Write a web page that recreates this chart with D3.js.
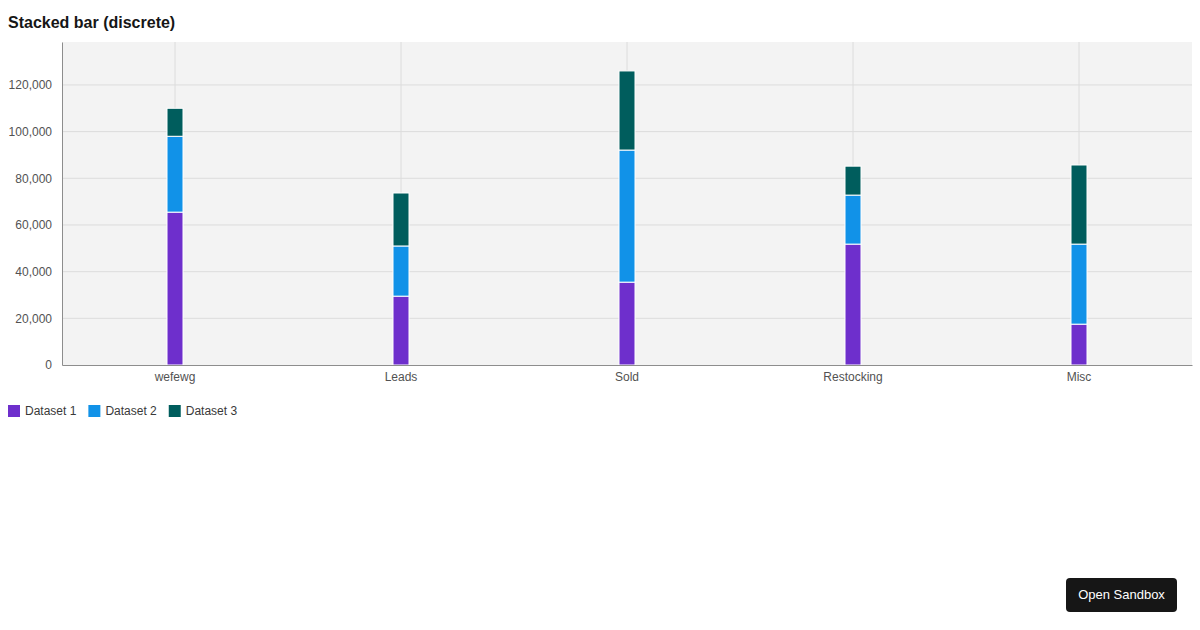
<!DOCTYPE html>
<html><head><meta charset="utf-8">
<script src="https://cdn.jsdelivr.net/npm/d3@7"></script>
<style>body{margin:0;background:#fff;font-family:"Liberation Sans",Arial,sans-serif}
#btn{position:absolute;left:1066px;top:578px;width:111px;height:34px;background:#161616;color:#fff;border-radius:4px;font-size:13px;line-height:34px;text-align:center}</style>
</head><body>
<svg id="c" width="1200" height="630"></svg>
<div id="btn">Open Sandbox</div>
<script>
const categories=["wefewg","Leads","Sold","Restocking","Misc"];
const seriesNames=["Dataset 1","Dataset 2","Dataset 3"];
const dataset1=[65500,29500,35500,51800,17500];
const dataset2=[32500,21500,56600,21000,34300];
const dataset3=[12000,22700,33900,12400,33900];
const yTicks=[0,20000,40000,60000,80000,100000,120000];
const colors=["#6e2fcc","#1192e8","#005d5d"];

const svg=d3.select("#c");
const m={l:62,r:8,t:42,b:265};
const W=1200-m.l-m.r,H=630-m.t-m.b;
svg.append("text").attr("x",8).attr("y",28).attr("font-size",16).attr("font-weight","bold").attr("fill","#161616").text("Stacked bar (discrete)");
const g=svg.append("g").attr("transform",`translate(${m.l},${m.t})`);
const x=d3.scaleBand().domain(categories).range([0,W]);
const y=d3.scaleLinear().domain([0,138400]).range([H,0]);
g.append("rect").attr("width",W).attr("height",H).attr("fill","#f3f3f3");
g.selectAll(".hg").data(yTicks.slice(1)).join("line").attr("x1",0).attr("x2",W).attr("y1",d=>y(d)).attr("y2",d=>y(d)).attr("stroke","#dcdcdc");
g.selectAll(".vg").data(categories).join("line").attr("y1",0).attr("y2",H).attr("x1",d=>x(d)+x.bandwidth()/2).attr("x2",d=>x(d)+x.bandwidth()/2).attr("stroke","#dcdcdc");
const rows=categories.map((c,i)=>({cat:c,"Dataset 1":dataset1[i],"Dataset 2":dataset2[i],"Dataset 3":dataset3[i]}));
const stack=d3.stack().keys(seriesNames)(rows);
const bw=16;
stack.forEach((s,si)=>{
  g.selectAll(".b"+si).data(s).join("rect")
   .attr("x",d=>x(d.data.cat)+x.bandwidth()/2-bw/2).attr("width",bw)
   .attr("y",d=>y(d[1])).attr("height",d=>y(d[0])-y(d[1]))
   .attr("fill",colors[si]).attr("stroke","#fff").attr("stroke-width",1);
});
const ya=g.append("g").call(d3.axisLeft(y).tickValues(yTicks).tickSize(0).tickPadding(10).tickFormat(d3.format(",")));
ya.select(".domain").attr("stroke","#8d8d8d");
ya.selectAll("text").attr("font-size",12).attr("fill","#525252").attr("font-family","Liberation Sans, Arial");
const xa=g.append("g").attr("transform",`translate(0,${H})`).call(d3.axisBottom(x).tickSize(0).tickPadding(7));
xa.select(".domain").attr("stroke","#8d8d8d");
xa.selectAll("text").attr("font-size",12).attr("fill","#525252").attr("font-family","Liberation Sans, Arial");
let lx=8;
seriesNames.forEach((n,i)=>{
  svg.append("rect").attr("x",lx).attr("y",405).attr("width",12).attr("height",12).attr("fill",colors[i]);
  const t=svg.append("text").attr("x",lx+17).attr("y",415).attr("font-size",12).attr("fill","#393939").text(n);
  lx+=17+t.node().getComputedTextLength()+12;
});
</script></body></html>
